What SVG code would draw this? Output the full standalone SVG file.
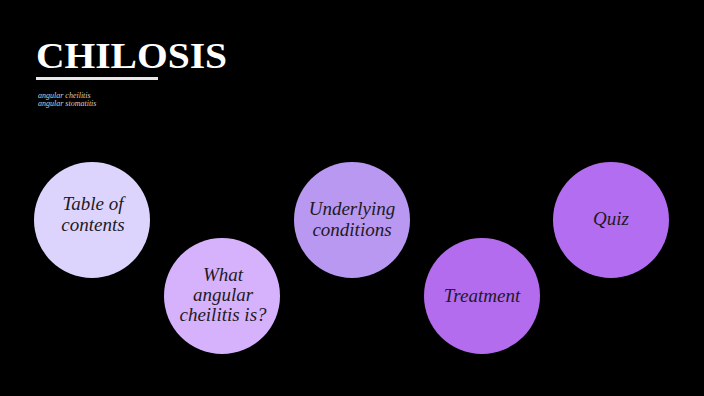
<svg xmlns="http://www.w3.org/2000/svg" width="704" height="396" viewBox="0 0 704 396">
<style>
.lbl{font-family:"Liberation Serif","DejaVu Serif",serif;font-style:italic;font-size:19px;fill:#1e1a24;text-anchor:middle}
.sub{font-family:"Liberation Serif",serif;font-style:italic;font-size:8px;fill:#d0d0d0}
</style>
<rect width="704" height="396" fill="#000"/>
<g id="title">
<text x="36" y="68" font-family="Liberation Serif,serif" font-weight="bold" font-size="36" fill="#ffffff" textLength="191" lengthAdjust="spacingAndGlyphs">CHILOSIS</text>
<rect x="36" y="77" width="122" height="3" fill="#e8e8e8"/>
<text class="sub" x="38" y="98">angular cheilitis</text>
<text class="sub" x="38" y="106">angular stomatitis</text>
</g>
<g id="connectors"></g>
<g id="n1"><circle cx="92" cy="220" r="58" fill="#ddd4fe"/>
<text class="lbl" x="93" y="210">Table of</text><text class="lbl" x="93" y="231">contents</text></g>
<g id="n2"><circle cx="222" cy="296" r="58" fill="#d6b2fc"/>
<text class="lbl" x="223" y="281">What</text><text class="lbl" x="223" y="301">angular</text><text class="lbl" x="223" y="321">cheilitis is?</text></g>
<g id="n3"><circle cx="352" cy="220" r="58" fill="#b898f0"/>
<text class="lbl" x="352" y="215">Underlying</text><text class="lbl" x="352" y="236">conditions</text></g>
<g id="n4"><circle cx="482" cy="296" r="58" fill="#b46cef"/>
<text class="lbl" x="482" y="302">Treatment</text></g>
<g id="n5"><circle cx="611" cy="220" r="58" fill="#b36df0"/>
<text class="lbl" x="611" y="225">Quiz</text></g>
</svg>
